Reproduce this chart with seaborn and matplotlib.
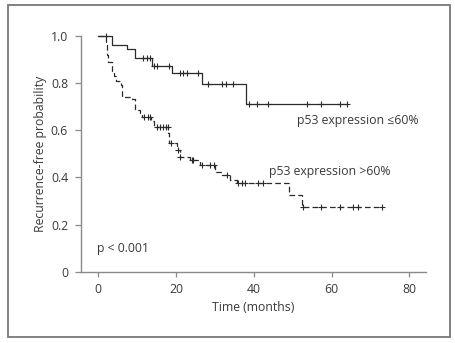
import numpy as np
import pandas as pd
import matplotlib
matplotlib.use("Agg")
import matplotlib.pyplot as plt
import seaborn as sns
from matplotlib.patches import Rectangle

# ---- data ----
low_times = [0, 3.4, 7.5, 9.4, 13.8, 18.9, 26.7, 38.0, 64.0]
low_surv = [1.0, 0.962, 0.945, 0.905, 0.874, 0.845, 0.797, 0.710, 0.710]
low_censor = [2.0, 11.5, 12.4, 13.3, 14.4, 15.0, 18.2, 20.9, 21.9, 22.7, 25.7,
              28.1, 31.9, 32.8, 34.7, 38.7, 40.8, 43.7, 53.7, 57.4, 62.1, 64.0]

high_times = [0, 2.0, 2.3, 2.6, 3.4, 4.0, 4.6, 5.8, 6.0, 8.6, 9.4, 10.7, 11.2,
              13.6, 14.4, 18.0, 18.2, 20.2, 21.0, 23.6, 26.1, 30.0, 31.7, 33.9,
              35.7, 49.1, 52.4, 72.9]
high_surv = [1.0, 0.96, 0.92, 0.89, 0.85, 0.83, 0.81, 0.79, 0.742, 0.731, 0.688,
             0.672, 0.657, 0.638, 0.615, 0.588, 0.545, 0.516, 0.488, 0.474, 0.453,
             0.424, 0.410, 0.389, 0.375, 0.325, 0.276, 0.276]
high_censor = [11.7, 12.9, 13.3, 15.0, 15.9, 16.7, 17.4, 17.8, 18.7, 20.5, 21.0,
               24.0, 24.4, 26.6, 28.8, 29.7, 33.0, 36.0, 36.9, 37.7, 41.1, 42.4,
               52.7, 57.4, 62.1, 65.6, 66.8, 72.9]

labels = ["p53 expression \u226460%", "p53 expression >60%"]
x_ticks = [0, 20, 40, 60, 80]
y_ticks = [0, 0.2, 0.4, 0.6, 0.8, 1.0]
y_ticklabels = ["0", "0.2", "0.4", "0.6", "0.8", "1.0"]


def step_value(times, surv, t):
    idx = np.searchsorted(np.asarray(times), t, side="right") - 1
    return np.asarray(surv)[idx]


sns.set_style("white")
plt.rcParams["font.family"] = ["Open Sans", "DejaVu Sans"]
plt.rcParams["font.size"] = 8.8

fig = plt.figure(figsize=(4.56, 3.43), dpi=100)
ax = fig.add_axes([81 / 456, 1 - 271.7 / 343, (425.7 - 81) / 456, (271.7 - 36) / 343])

line_col = "#2b2b2b"
txt_col = "#3a3a3a"
curves = pd.concat([
    pd.DataFrame({"time": low_times, "surv": low_surv, "group": labels[0]}),
    pd.DataFrame({"time": high_times, "surv": high_surv, "group": labels[1]}),
])
sns.lineplot(data=curves, x="time", y="surv", style="group", estimator=None,
             sort=False, drawstyle="steps-post", color=line_col, lw=0.9,
             dashes={labels[0]: "", labels[1]: (4.5, 2.5)}, legend=False, ax=ax)
for l in ax.lines:
    l.set_clip_on(False)

cens = pd.concat([
    pd.DataFrame({"time": low_censor,
                  "surv": [step_value(low_times, low_surv, t) for t in low_censor]}),
    pd.DataFrame({"time": high_censor,
                  "surv": [step_value(high_times, high_surv, t) for t in high_censor]}),
])
sns.scatterplot(data=cens, x="time", y="surv", marker="+", s=18, linewidth=0.8,
                color=line_col, ax=ax, clip_on=False, zorder=3)

ax.set_xlim(-4.45, 84.2)
ax.set_ylim(0, 1.0)
ax.set_xticks(x_ticks)
ax.set_yticks(y_ticks)
ax.set_yticklabels(y_ticklabels)
ax.set_xlabel("Time (months)", color=txt_col, labelpad=3.5)
ax.set_ylabel("Recurrence-free probability", color=txt_col, labelpad=3)

for s in ["top", "right"]:
    ax.spines[s].set_visible(False)
for s in ["left", "bottom"]:
    ax.spines[s].set_color("#8a8a8a")
    ax.spines[s].set_linewidth(1.0)
ax.spines["bottom"].set_bounds(-4.45, 84.2)
ax.tick_params(axis="both", direction="out", width=0.9,
               color="#8a8a8a", labelcolor=txt_col)
ax.tick_params(axis="x", bottom=True, length=3.6, pad=4.5)
ax.tick_params(axis="y", left=True, length=4.3, pad=5)

ax.text(51.2, 0.64, labels[0], ha="left", va="center", color=txt_col)
ax.text(44.0, 0.425, labels[1], ha="left", va="center", color=txt_col)
ax.text(-0.3, 0.10, "p < 0.001", ha="left", va="center", color=txt_col)

fig.patches.append(Rectangle((8 / 456, 1 - 337 / 343), 442 / 456, 332 / 343,
                             transform=fig.transFigure, fill=False,
                             edgecolor="#777777", lw=1.3))

fig.savefig("out.png", dpi=100)
